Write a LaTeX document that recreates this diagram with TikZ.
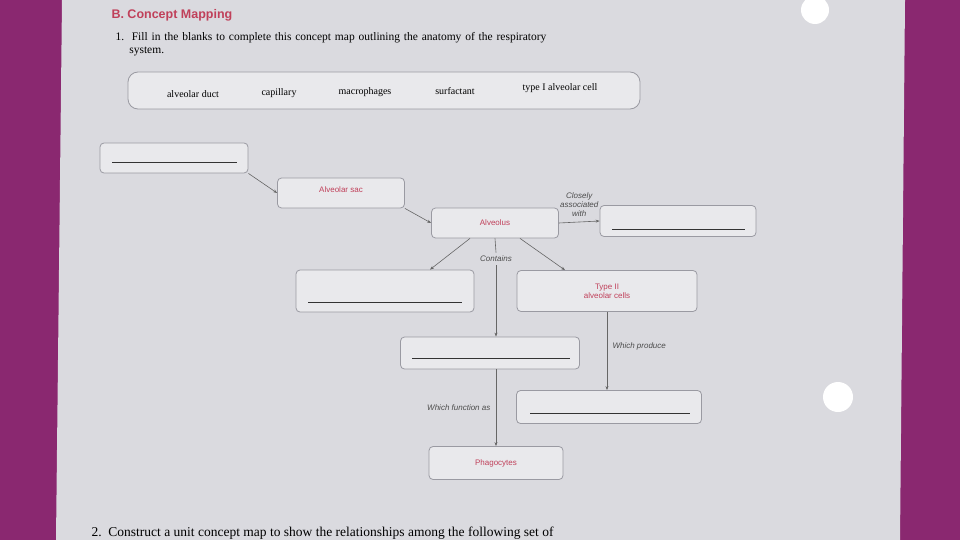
\documentclass[tikz,border=0pt]{standalone}
\usepackage{fontspec}
\setmainfont{Liberation Serif}
\newfontfamily\mapfont{Liberation Sans}
\usetikzlibrary{positioning, arrows.meta}
\definecolor{paper}{HTML}{DADADF}
\definecolor{purp}{HTML}{8A2870}
\definecolor{mapred}{HTML}{C0405A}
\definecolor{boxgray}{HTML}{9A9AA2}
\tikzset{
  mapbox/.style={draw=boxgray, rounded corners=4pt, fill=paper!60!white, line width=0.8pt},
  maptext/.style={font=\mapfont\fontsize{8}{9}\selectfont, text=mapred, align=center},
  linktext/.style={font=\mapfont\itshape\fontsize{8}{9}\selectfont, text=black!70, align=center},
  bankword/.style={font=\fontsize{10}{11}\selectfont},
  blankline/.style={draw=black!80, line width=0.6pt},
  link/.style={draw=black!60, line width=0.6pt, -{Stealth[length=4pt]}}
}
\begin{document}
\begin{tikzpicture}[x=1pt, y=-1pt]
\useasboundingbox (0,0) rectangle (960,540);
% page and background
\fill[purp] (0,0) rectangle (960,540);
\fill[paper] (62,0) -- (905,0) -- (900,540) -- (56,540) -- cycle;
\fill[white] (815,10) circle (14);
\fill[white] (838,397) circle (15);

% heading
\node[anchor=west, font=\mapfont\bfseries\fontsize{12.5}{14}\selectfont, text=mapred] (title) at (108,15) {B. Concept Mapping};
\node[anchor=west, font=\fontsize{11.5}{13}\selectfont, align=left, text width=480pt] (task) at (112,44) {1.\ \ Fill in the blanks to complete this concept map outlining the anatomy of the respiratory\\ \hspace*{1.2em}system.};

% word bank
\draw[mapbox, rounded corners=10pt] (128,72) rectangle (640,109);
\node[bankword] (w1) at (193,94) {alveolar duct};
\node[bankword] (w2) at (279,93) {capillary};
\node[bankword] (w3) at (365,92) {macrophages};
\node[bankword] (w4) at (455,91) {surfactant};
\node[bankword] (w5) at (560,88) {type I alveolar cell};

% concept boxes
\node[mapbox, minimum width=148pt, minimum height=30pt] (duct) at (174,158) {};
\draw[blankline] (112,162) -- (237,162);
\node[mapbox, maptext, minimum width=127pt, minimum height=30pt] (sac) at (341,193) {\raisebox{6pt}{Alveolar sac}};
\node[mapbox, maptext, minimum width=127pt, minimum height=30pt] (alveolus) at (495,223) {Alveolus};
\node[mapbox, minimum width=156pt, minimum height=31pt] (capil) at (678,221) {};
\draw[blankline] (612,229) -- (745,229);
\node[mapbox, minimum width=178pt, minimum height=42pt] (type1) at (385,291) {};
\draw[blankline] (308,302) -- (462,302);
\node[mapbox, maptext, minimum width=180pt, minimum height=41pt] (type2) at (607,291) {Type II\\alveolar cells};
\node[mapbox, minimum width=179pt, minimum height=32pt] (macro) at (490,353) {};
\draw[blankline] (412,358) -- (570,358);
\node[mapbox, minimum width=185pt, minimum height=33pt] (surf) at (609,407) {};
\draw[blankline] (530,413) -- (690,413);
\node[mapbox, maptext, minimum width=134pt, minimum height=33pt] (phago) at (496,463) {Phagocytes};

% connectors
\draw[link] (duct.south east) -- (sac.west);
\draw[link] (sac.south east) -- (alveolus.west);
\draw[link] (alveolus.east) -- node[linktext, above=2pt] {Closely\\associated\\with} (capil.west);
\draw[link] ([xshift=-25pt]alveolus.south) -- ([xshift=45pt]type1.north);
\draw[link] ([xshift=25pt]alveolus.south) -- ([xshift=-42pt]type2.north);
\node[linktext] (contains) at (496,259) {Contains};
\draw[draw=black!60, line width=0.6pt] (alveolus.south) -- (contains.north);
\draw[link] (contains.south) -- (contains.south |- macro.north);
\draw[link] (type2.south) -- (type2.south |- surf.north);
\node[linktext, right=2pt] (produce) at (type2.south |- 0,346) {Which produce};
\draw[link] (phago.north |- macro.south) -- node[linktext, left=2pt] {Which function as} (phago.north);

% next task
\node[anchor=west, font=\fontsize{13.5}{15}\selectfont] (task2) at (88,533) {2.\ \ Construct a unit concept map to show the relationships among the following set of};
\end{tikzpicture}
\end{document}
